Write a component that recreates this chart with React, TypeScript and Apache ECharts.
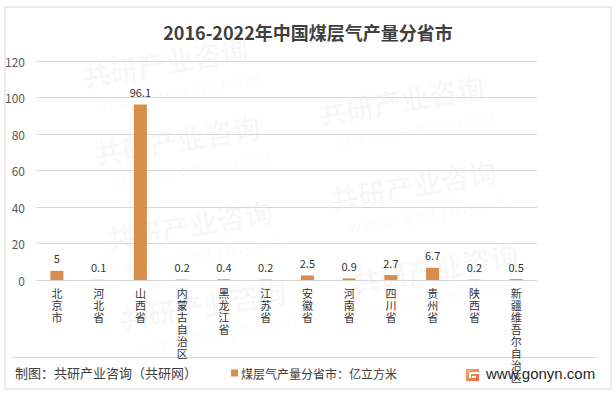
import React, { useEffect, useRef } from "react";
import * as echarts from "echarts";

const categories = [
  "北京市", "河北省", "山西省", "内蒙古自治区", "黑龙江省", "江苏省",
  "安徽省", "河南省", "四川省", "贵州省", "陕西省", "新疆维吾尔自治区",
];
const values = [5, 0.1, 96.1, 0.2, 0.4, 0.2, 2.5, 0.9, 2.7, 6.7, 0.2, 0.5];
const seriesName = "煤层气产量分省市：亿立方米";
const titleText = "2016-2022年中国煤层气产量分省市";
const sourceText = "制图：共研产业咨询（共研网）";
const siteText = "www.gonyn.com";

const FONT = "'Noto Sans CJK SC', 'Noto Sans', sans-serif";
const BAR = "#D98D4C";

const watermarkSpots = [
  [80, 62], [316, 100], [92, 140], [328, 185], [104, 225], [350, 268],
  [118, 305],
];

export default function App() {
  const ref = useRef<HTMLDivElement>(null);
  useEffect(() => {
    if (!ref.current) return;
    const chart = echarts.init(ref.current, null, { renderer: "svg" });
    const watermarks: any[] = [];
    watermarkSpots.forEach(([x, y]) => {
      watermarks.push({
        type: "text",
        x,
        y,
        rotation: 0.17,
        z: -10,
        silent: true,
        style: {
          text: "共研产业咨询",
          font: `bold 28px ${FONT}`,
          fill: "rgba(0,0,0,0.035)",
        },
      });
      watermarks.push({
        type: "text",
        x: x + 20,
        y: y + 34,
        rotation: 0.17,
        z: -10,
        silent: true,
        style: {
          text: "w w w . g o n y n . c o m",
          font: `15px ${FONT}`,
          fill: "rgba(0,0,0,0.035)",
        },
      });
    });

    chart.setOption({
      animation: false,
      backgroundColor: "#ffffff",
      title: {
        text: titleText,
        left: "center",
        top: 18,
        textStyle: {
          fontFamily: FONT,
          fontSize: 18,
          fontWeight: "bold",
          color: "#404040",
        },
      },
      grid: { left: 36, right: 79, top: 61, bottom: 114, containLabel: false },
      xAxis: {
        type: "category",
        data: categories,
        axisLine: { show: true, lineStyle: { color: "#d9d9d9", width: 1 } },
        axisTick: { show: false },
        axisLabel: {
          interval: 0,
          margin: 7,
          fontFamily: FONT,
          fontSize: 11,
          lineHeight: 12,
          color: "#333333",
          formatter: (v: string) => v.split("").join("\n"),
        },
      },
      yAxis: {
        type: "value",
        min: 0,
        max: 120,
        interval: 20,
        axisLine: { show: false },
        axisTick: { show: false },
        splitLine: { lineStyle: { color: "#d9d9d9", width: 1 } },
        axisLabel: {
          margin: 11,
          fontFamily: FONT,
          fontSize: 12,
          color: "#595959",
        },
      },
      legend: {
        show: true,
        left: 226,
        top: 362,
        itemWidth: 7,
        itemHeight: 7,
        itemGap: 4,
        icon: "rect",
        textStyle: { fontFamily: FONT, fontSize: 12, color: "#404040", padding: [0, 0, 0, -2] },
        data: [seriesName],
      },
      series: [
        {
          name: seriesName,
          type: "bar",
          data: values,
          barWidth: 13,
          itemStyle: { color: BAR },
          label: {
            show: true,
            position: "top",
            distance: 7,
            fontFamily: FONT,
            fontSize: 11,
            color: "#333333",
          },
        },
      ],
      graphic: [
        ...watermarks,
        {
          type: "rect",
          shape: { x: 5, y: 7, width: 606, height: 382 },
          silent: true,
          style: { fill: "none", stroke: "#d9d9d9", lineWidth: 1 },
        },
        {
          type: "line",
          shape: { x1: 12, y1: 357.5, x2: 597, y2: 357.5 },
          silent: true,
          style: { stroke: "#d9d9d9", lineWidth: 1 },
        },
        {
          type: "text",
          x: 15,
          y: 366,
          style: {
            text: sourceText,
            font: `13px ${FONT}`,
            fill: "#404040",
          },
        },
        {
          type: "group",
          x: 466,
          y: 369,
          children: [
            {
              type: "rect",
              shape: { x: 0, y: 0, width: 13, height: 12 },
              style: {
                fill: new echarts.graphic.LinearGradient(0, 0, 1, 1, [
                  { offset: 0, color: "#F6B06A" },
                  { offset: 1, color: "#E8623E" },
                ]),
              },
            },
            { type: "rect", shape: { x: 3, y: 3, width: 10, height: 2 }, style: { fill: "#fff" } },
            { type: "rect", shape: { x: 3, y: 5, width: 2, height: 4 }, style: { fill: "#fff" } },
            { type: "rect", shape: { x: 6, y: 7, width: 4, height: 2 }, style: { fill: "#fff" } },
          ],
        },
        {
          type: "text",
          x: 486,
          y: 366,
          style: {
            text: siteText,
            font: `15px 'Liberation Sans', Arial, sans-serif`,
            fill: "#262626",
          },
        },
      ],
    });
    return () => chart.dispose();
  }, []);
  return <div ref={ref} style={{ width: 616, height: 394, position: "absolute", left: 0, top: 0 }} />;
}
